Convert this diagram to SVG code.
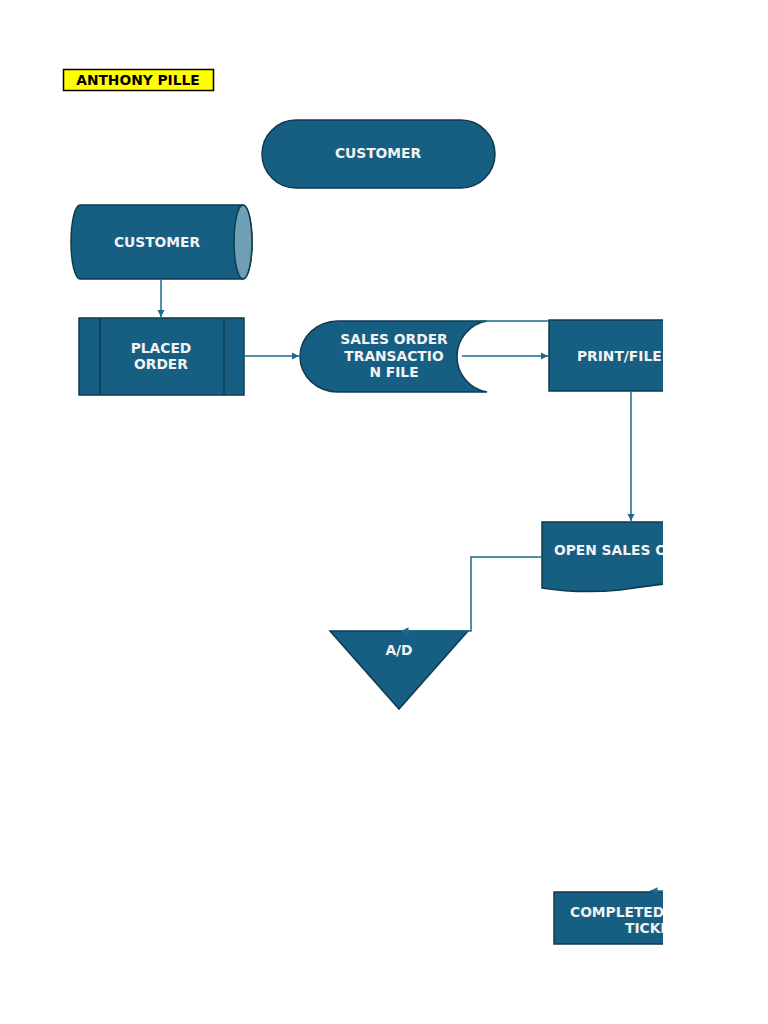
<svg xmlns="http://www.w3.org/2000/svg" width="768" height="1024" viewBox="0 0 768 1024">
<style>
.n{fill:#165F82;stroke:#0E3B50;stroke-width:1.5}
.t{font-family:"DejaVu Sans",Verdana,sans-serif;font-weight:bold;font-size:13.8px;fill:#F2F2F2;text-anchor:middle}
.c{fill:none;stroke:#1E6A8C;stroke-width:1.5}
</style>
<defs>
<marker id="ah" viewBox="0 0 10 10" refX="10" refY="5" markerWidth="5" markerHeight="5" orient="auto"><path d="M0,0L10,5L0,10z" fill="#1E6A8C"/></marker>
<clipPath id="clip"><rect x="0" y="0" width="663" height="1024"/></clipPath>
</defs>
<rect width="768" height="1024" fill="#fff"/>
<g id="title">
<rect x="63.5" y="69.5" width="150" height="21" fill="#FFFF00" stroke="#000" stroke-width="1.5"/>
<text x="138" y="85" font-family="DejaVu Sans,Verdana,sans-serif" font-weight="bold" font-size="13.8" text-anchor="middle" fill="#000">ANTHONY PILLE</text>
</g>
<g id="customer-terminator">
<rect class="n" x="262" y="120" width="233" height="68" rx="34"/>
<text class="t" x="378" y="158">CUSTOMER</text>
</g>
<g id="customer-cylinder">
<path class="n" d="M80,205 L243,205 A9,37 0 0 1 243,279 L80,279 A9,37 0 0 1 80,205 Z"/>
<ellipse cx="243" cy="242" rx="9" ry="37" fill="#6E9FB5" stroke="#0E3B50" stroke-width="1.5"/>
<text class="t" x="157" y="247">CUSTOMER</text>
</g>
<g id="placed-order">
<rect class="n" x="79" y="318" width="165" height="77"/>
<line x1="100" y1="318" x2="100" y2="395" stroke="#0E3B50" stroke-width="1.5"/>
<line x1="224" y1="318" x2="224" y2="395" stroke="#0E3B50" stroke-width="1.5"/>
<text class="t" x="161" y="353">PLACED</text>
<text class="t" x="161" y="369">ORDER</text>
</g>
<g id="sales-order-file">
<path class="n" d="M338,321 L487,321 A36,36 0 0 0 487,392 L338,392 A38,35.5 0 0 1 338,321 Z"/>
<text class="t" x="394" y="344">SALES ORDER</text>
<text class="t" x="394" y="361">TRANSACTIO</text>
<text class="t" x="394" y="377">N FILE</text>
</g>
<g clip-path="url(#clip)">
<g id="print-file">
<rect class="n" x="549" y="320" width="130" height="71"/>
<text class="t" x="577" y="361" style="text-anchor:start">PRINT/FILE</text>
</g>
<g id="open-sales-order">
<path class="n" d="M542,522 L700,522 L700,580 Q660,584 620,590 Q580,594 542,588 Z"/>
<text class="t" x="554" y="555" style="text-anchor:start">OPEN SALES ORDER</text>
</g>
<g id="completed-ticket">
<rect class="n" x="554" y="892" width="150" height="52"/>
<text class="t" x="570" y="917" style="text-anchor:start">COMPLETED</text>
<text class="t" x="625" y="933" style="text-anchor:start">TICKET</text>
</g>
</g>
<g id="ad-merge">
<path class="n" d="M330,631 L468,631 L399,709 Z"/>
<text class="t" x="399" y="655">A/D</text>
</g>
<g id="connectors">
<line class="c" x1="161" y1="279" x2="161" y2="317" marker-end="url(#ah)"/>
<line class="c" x1="244" y1="356" x2="299" y2="356" marker-end="url(#ah)"/>
<line class="c" x1="480" y1="321" x2="549" y2="321"/>
<line class="c" x1="462" y1="356" x2="548" y2="356" marker-end="url(#ah)"/>
<line class="c" x1="631" y1="391" x2="631" y2="521" marker-end="url(#ah)"/>
<polyline class="c" points="542,557 471,557 471,631 401,631" marker-end="url(#ah)"/>
<polyline class="c" points="663,891 650,891" marker-end="url(#ah)"/>
</g>
</svg>
